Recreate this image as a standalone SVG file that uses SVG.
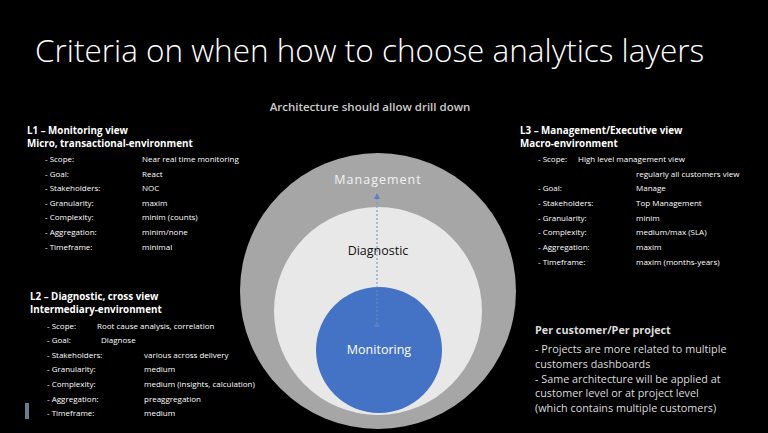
<svg xmlns="http://www.w3.org/2000/svg" width="768" height="433" viewBox="0 0 768 433">
<style>
text{font-family:"Open Sans","Liberation Sans",sans-serif;fill:#fff}
.h{font-size:9.8px;font-weight:bold}
.i{font-size:8px}
.p{font-size:10.8px;fill:#ddd}
</style>
<defs><marker id="a" markerWidth="6" markerHeight="6" refX="3" refY="3" orient="auto"><path d="M0,0L6,3L0,6z" fill="#5b7fc4"/></marker></defs>
<rect width="768" height="433" fill="#000"/>
<text x="35" y="62" style="font-size:31.5px;font-weight:300">Criteria on when how to choose analytics layers</text>
<text x="370" y="111" text-anchor="middle" style="font-size:11.5px;font-weight:600;fill:#ccc">Architecture should allow drill down</text>
<g id="management"><circle cx="378" cy="291" r="138" fill="#a6a6a6"/><text x="378" y="184" text-anchor="middle" style="font-size:12.5px;letter-spacing:1px;fill:#f2f2f2">Management</text></g>
<g id="diagnostic"><circle cx="378" cy="311" r="104" fill="#e8e8e8"/><text x="378" y="255" text-anchor="middle" style="font-size:12.5px;fill:#111">Diagnostic</text></g>
<g id="monitoring"><circle cx="379" cy="350" r="63" fill="#4472c4"/><text x="379" y="354" text-anchor="middle" style="font-size:12.5px;fill:#fff">Monitoring</text></g>
<g id="connectors"><line x1="377" y1="324" x2="377" y2="196" stroke="#6f8fc8" stroke-width="1" stroke-dasharray="2,2" marker-start="url(#a)" marker-end="url(#a)"/></g>
<g id="l1">
<text class="h" x="27" y="134">L1 – Monitoring view</text>
<text class="h" x="27" y="147">Micro, transactional-environment</text>
<g class="i">
<text x="45" y="162">- Scope:</text><text x="142" y="162">Near real time monitoring</text>
<text x="45" y="177">- Goal:</text><text x="142" y="177">React</text>
<text x="45" y="191">- Stakeholders:</text><text x="142" y="191">NOC</text>
<text x="45" y="206">- Granularity:</text><text x="142" y="206">maxim</text>
<text x="45" y="220">- Complexity:</text><text x="142" y="220">minim (counts)</text>
<text x="45" y="235">- Aggregation:</text><text x="142" y="235">minim/none</text>
<text x="45" y="250">- Timeframe:</text><text x="142" y="250">minimal</text>
</g></g>
<g id="l2">
<text class="h" x="30" y="300">L2 – Diagnostic, cross view</text>
<text class="h" x="30" y="313">Intermediary-environment</text>
<g class="i">
<text x="47" y="329">- Scope:</text><text x="97" y="329">Root cause analysis, correlation</text>
<text x="47" y="343">- Goal:</text><text x="101" y="343">Diagnose</text>
<text x="47" y="358">- Stakeholders:</text><text x="144" y="358">various across delivery</text>
<text x="47" y="372">- Granularity:</text><text x="144" y="372">medium</text>
<text x="47" y="387">- Complexity:</text><text x="144" y="387">medium (insights, calculation)</text>
<text x="47" y="402">- Aggregation:</text><text x="144" y="402">preaggregation</text>
<text x="47" y="416">- Timeframe:</text><text x="144" y="416">medium</text>
</g>
<rect x="25" y="403" width="4" height="16" fill="#6b7a8f"/></g>
<g id="l3">
<text class="h" x="520" y="134">L3 – Management/Executive view</text>
<text class="h" x="520" y="147">Macro-environment</text>
<g class="i">
<text x="538" y="162">- Scope:</text><text x="578" y="162">High level management view</text>
<text x="636" y="177">regularly all customers view</text>
<text x="538" y="191">- Goal:</text><text x="636" y="191">Manage</text>
<text x="538" y="206">- Stakeholders:</text><text x="636" y="206">Top Management</text>
<text x="538" y="221">- Granularity:</text><text x="636" y="221">minim</text>
<text x="538" y="235">- Complexity:</text><text x="636" y="235">medium/max (SLA)</text>
<text x="538" y="250">- Aggregation:</text><text x="636" y="250">maxim</text>
<text x="538" y="265">- Timeframe:</text><text x="636" y="265">maxim (months-years)</text>
</g></g>
<g id="per-customer">
<text x="535" y="334" style="font-size:10.8px;font-weight:bold;fill:#ddd">Per customer/Per project</text>
<text class="p" x="535" y="353">- Projects are more related to multiple</text>
<text class="p" x="535" y="368">customers dashboards</text>
<text class="p" x="535" y="383">- Same architecture will be applied at</text>
<text class="p" x="535" y="397">customer level or at project level</text>
<text class="p" x="535" y="412">(which contains multiple customers)</text>
</g>
</svg>
